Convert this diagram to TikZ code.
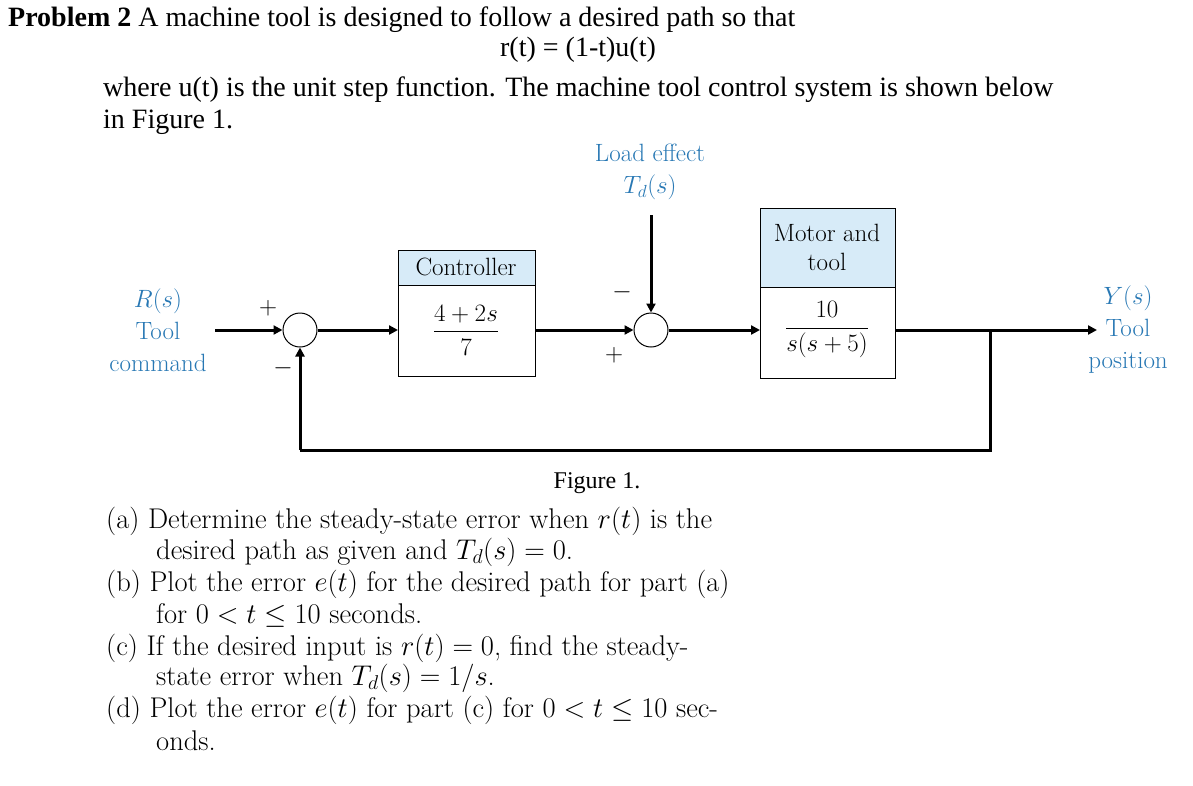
\RequirePackage{fix-cm}
\documentclass[tikz,border=0pt]{standalone}
\usepackage{fontspec}
\setmainfont{Liberation Serif}
\newfontfamily\lmr{Latin Modern Roman}
\usetikzlibrary{arrows.meta}
\definecolor{lbl}{RGB}{40,120,180}
\definecolor{fillb}{RGB}{215,235,248}
\begin{document}
\begin{tikzpicture}[x=1pt,y=-1pt,
  sig/.style={line width=3pt,-{Triangle[length=9pt,width=9pt]}},
  wire/.style={line width=3pt},
  blk/.style={draw,line width=0.8pt},
  sum/.style={circle,draw,line width=1pt,minimum size=34pt,inner sep=0pt},
  lab/.style={text=lbl,font=\lmr\fontsize{25}{32}\selectfont,align=center},
  hd/.style={font=\fontsize{28}{30}\selectfont,anchor=west,inner sep=0pt},
  q/.style={font=\lmr\fontsize{28.5}{30}\selectfont,anchor=west,inner sep=0pt},
  bt/.style={font=\lmr\fontsize{25}{27}\selectfont}]
\useasboundingbox (0,0) rectangle (1193,785);
\node[hd] (h1) at (8,20) {\textbf{Problem 2} A machine tool is designed to follow a desired path so that};
\node[hd,anchor=center] (h2) at (578,50) {r(t) = (1-t)u(t)};
\node[hd] (h3) at (103,90) {where u(t) is the unit step function. The machine tool control system is shown below};
\node[hd] (h4) at (103,122) {in Figure 1.};
% blocks
\fill[fillb] (760,208) rectangle (895,287);
\draw[blk] (760,208) rectangle (895,378); \draw[blk] (760,287) -- (895,287);
\fill[fillb] (398,250) rectangle (535,285);
\draw[blk] (398,250) rectangle (535,376); \draw[blk] (398,285) -- (535,285);
\node[bt,align=center] (mt) at (827,247) {Motor and\\[2pt]tool};
\node[bt] (ct) at (466,267) {Controller};
\node[bt] (cg) at (466,330) {$\displaystyle\frac{4+2s}{7}$};
\node[bt] (mg) at (827,330) {$\displaystyle\frac{10}{s(s+5)}$};
\coordinate (cin) at (398,330); \coordinate (cout) at (535,330);
\coordinate (min) at (760,330); \coordinate (mout) at (895,330);
\node[sum] (s1) at (300,330) {};
\node[sum] (s2) at (651,330) {};
\node[lab] (R) at (158,330) {$R(s)$\\Tool\\command};
\node[lab] (Y) at (1128,330) {$Y(s)$\\Tool\\position};
\node[lab] (ld) at (650,172) {Load effect\\$T_d(s)$};
\coordinate (rin) at (215,330); \coordinate (yout) at (1097,330);
\coordinate (tp) at (990,330); \coordinate (bl) at (990,450); \coordinate (br) at (300,450);
\coordinate (ltop) at (651,215);
\draw[sig] (rin) -- (s1);
\draw[sig] (s1) -- (cin);
\draw[sig] (cout) -- (s2);
\draw[sig] (s2) -- (min);
\draw[sig] (mout) -- (yout);
\draw[wire] (tp) -- (bl) -- (br);
\draw[sig] (br) -- (s1);
\draw[sig] (ltop) -- (s2);
\node[bt] (p1) at (268,308) {$+$};
\node[bt] (m1) at (283,368) {$-$};
\node[bt] (m2) at (622,292) {$-$};
\node[bt] (p2) at (614,355) {$+$};
\node[font=\fontsize{24}{26}\selectfont] (fig) at (597,483) {Figure 1.};
\node[q] (a1) at (106,521) {(a) Determine the steady-state error when $r(t)$ is the};
\node[q] (a2) at (156,552) {desired path as given and $T_d(s)=0$.};
\node[q] (b1) at (106,584) {(b) Plot the error $e(t)$ for the desired path for part (a)};
\node[q] (b2) at (156,615) {for $0<t\le 10$ seconds.};
\node[q] (c1) at (106,648) {(c) If the desired input is $r(t)=0$, find the steady-};
\node[q] (c2) at (156,678) {state error when $T_d(s)=1/s$.};
\node[q] (d1) at (106,710) {(d) Plot the error $e(t)$ for part (c) for $0<t\le 10$ sec-};
\node[q] (d2) at (156,741) {onds.};
\end{tikzpicture}
\end{document}
